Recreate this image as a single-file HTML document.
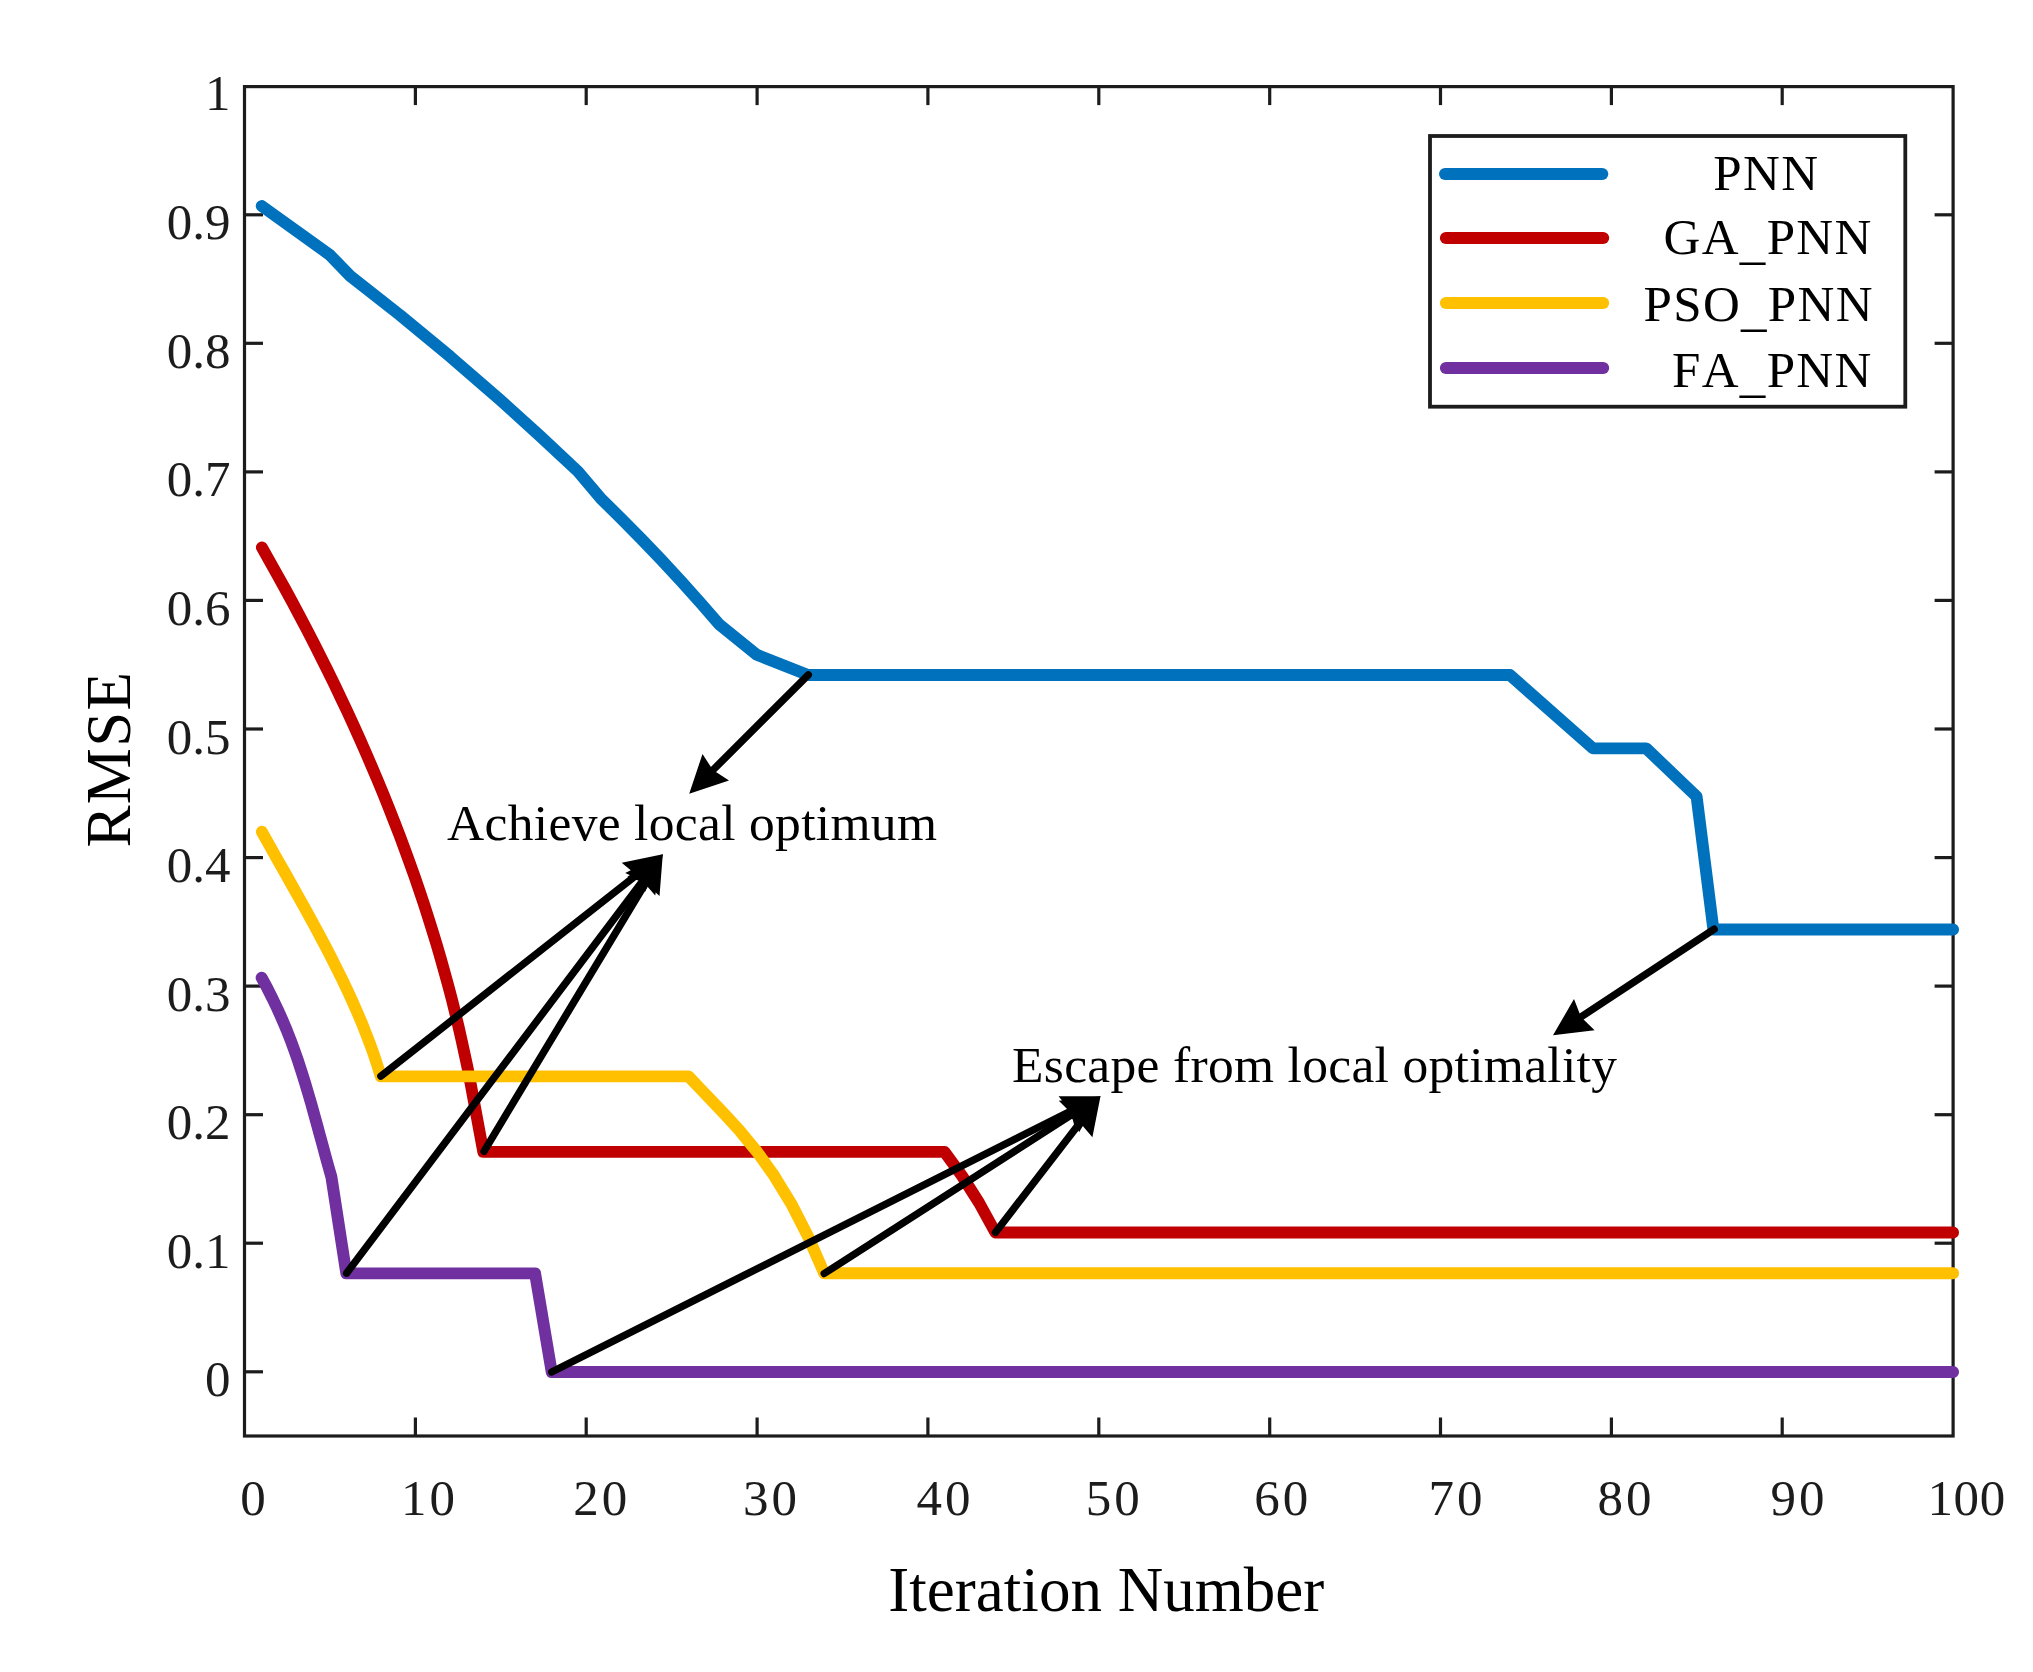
<!DOCTYPE html>
<html><head><meta charset="utf-8"><title>RMSE vs Iteration Number</title>
<style>
html,body{margin:0;padding:0;background:#fff;}
body{width:2033px;height:1672px;overflow:hidden;}
svg{display:block;}
text{font-family:"Liberation Serif",serif;font-kerning:none;}
.tk{font-size:51px;fill:#1c1c1c;letter-spacing:0.6px;}
.lg{font-size:51px;fill:#000;letter-spacing:1.3px;}
.an{font-size:51.5px;fill:#000;}
</style></head><body>
<svg width="2033" height="1672" viewBox="0 0 2033 1672">
<rect width="2033" height="1672" fill="#fff"/>
<g stroke="#1c1c1c" stroke-width="3.2" fill="none" stroke-linecap="butt">
<rect x="244.5" y="86.6" width="1708.6" height="1349.4"/>
<line x1="415.4" y1="1436.0" x2="415.4" y2="1417.5"/>
<line x1="415.4" y1="86.6" x2="415.4" y2="105.1"/>
<line x1="586.2" y1="1436.0" x2="586.2" y2="1417.5"/>
<line x1="586.2" y1="86.6" x2="586.2" y2="105.1"/>
<line x1="757.1" y1="1436.0" x2="757.1" y2="1417.5"/>
<line x1="757.1" y1="86.6" x2="757.1" y2="105.1"/>
<line x1="927.9" y1="1436.0" x2="927.9" y2="1417.5"/>
<line x1="927.9" y1="86.6" x2="927.9" y2="105.1"/>
<line x1="1098.8" y1="1436.0" x2="1098.8" y2="1417.5"/>
<line x1="1098.8" y1="86.6" x2="1098.8" y2="105.1"/>
<line x1="1269.7" y1="1436.0" x2="1269.7" y2="1417.5"/>
<line x1="1269.7" y1="86.6" x2="1269.7" y2="105.1"/>
<line x1="1440.5" y1="1436.0" x2="1440.5" y2="1417.5"/>
<line x1="1440.5" y1="86.6" x2="1440.5" y2="105.1"/>
<line x1="1611.4" y1="1436.0" x2="1611.4" y2="1417.5"/>
<line x1="1611.4" y1="86.6" x2="1611.4" y2="105.1"/>
<line x1="1782.2" y1="1436.0" x2="1782.2" y2="1417.5"/>
<line x1="1782.2" y1="86.6" x2="1782.2" y2="105.1"/>
<line x1="244.5" y1="1371.8" x2="263.0" y2="1371.8"/>
<line x1="1953.1" y1="1371.8" x2="1934.6" y2="1371.8"/>
<line x1="244.5" y1="1243.2" x2="263.0" y2="1243.2"/>
<line x1="1953.1" y1="1243.2" x2="1934.6" y2="1243.2"/>
<line x1="244.5" y1="1114.7" x2="263.0" y2="1114.7"/>
<line x1="1953.1" y1="1114.7" x2="1934.6" y2="1114.7"/>
<line x1="244.5" y1="986.1" x2="263.0" y2="986.1"/>
<line x1="1953.1" y1="986.1" x2="1934.6" y2="986.1"/>
<line x1="244.5" y1="857.6" x2="263.0" y2="857.6"/>
<line x1="1953.1" y1="857.6" x2="1934.6" y2="857.6"/>
<line x1="244.5" y1="729.0" x2="263.0" y2="729.0"/>
<line x1="1953.1" y1="729.0" x2="1934.6" y2="729.0"/>
<line x1="244.5" y1="600.4" x2="263.0" y2="600.4"/>
<line x1="1953.1" y1="600.4" x2="1934.6" y2="600.4"/>
<line x1="244.5" y1="471.9" x2="263.0" y2="471.9"/>
<line x1="1953.1" y1="471.9" x2="1934.6" y2="471.9"/>
<line x1="244.5" y1="343.3" x2="263.0" y2="343.3"/>
<line x1="1953.1" y1="343.3" x2="1934.6" y2="343.3"/>
<line x1="244.5" y1="214.8" x2="263.0" y2="214.8"/>
<line x1="1953.1" y1="214.8" x2="1934.6" y2="214.8"/>
</g>
<text class="tk" x="253.2" y="1515" text-anchor="middle" style="letter-spacing:0.6px">0</text>
<text class="tk" x="429.5" y="1515" text-anchor="middle" style="letter-spacing:3px">10</text>
<text class="tk" x="601.7" y="1515" text-anchor="middle" style="letter-spacing:3px">20</text>
<text class="tk" x="771.4" y="1515" text-anchor="middle" style="letter-spacing:3px">30</text>
<text class="tk" x="945.0" y="1515" text-anchor="middle" style="letter-spacing:3px">40</text>
<text class="tk" x="1114.3" y="1515" text-anchor="middle" style="letter-spacing:3px">50</text>
<text class="tk" x="1282.7" y="1515" text-anchor="middle" style="letter-spacing:3px">60</text>
<text class="tk" x="1456.9" y="1515" text-anchor="middle" style="letter-spacing:3px">70</text>
<text class="tk" x="1625.9" y="1515" text-anchor="middle" style="letter-spacing:3px">80</text>
<text class="tk" x="1799.1" y="1515" text-anchor="middle" style="letter-spacing:3px">90</text>
<text class="tk" x="1966.6" y="1515" text-anchor="middle" style="letter-spacing:0.6px">100</text>
<text class="tk" x="230.4" y="1396.3" text-anchor="end" style="letter-spacing:0">0</text>
<text class="tk" x="230.4" y="1267.7" text-anchor="end" style="letter-spacing:0">0.1</text>
<text class="tk" x="230.4" y="1139.2" text-anchor="end" style="letter-spacing:0">0.2</text>
<text class="tk" x="230.4" y="1010.6" text-anchor="end" style="letter-spacing:0">0.3</text>
<text class="tk" x="230.4" y="882.1" text-anchor="end" style="letter-spacing:0">0.4</text>
<text class="tk" x="230.4" y="753.5" text-anchor="end" style="letter-spacing:0">0.5</text>
<text class="tk" x="230.4" y="624.9" text-anchor="end" style="letter-spacing:0">0.6</text>
<text class="tk" x="230.4" y="496.4" text-anchor="end" style="letter-spacing:0">0.7</text>
<text class="tk" x="230.4" y="367.8" text-anchor="end" style="letter-spacing:0">0.8</text>
<text class="tk" x="230.4" y="239.3" text-anchor="end" style="letter-spacing:0">0.9</text>
<text class="tk" x="230.4" y="110.0" text-anchor="end" style="letter-spacing:0">1</text>
<polyline points="261.7,206.0 329.7,254.8 350.2,276.0 400.0,315.1 450.0,356.4 500.0,399.8 540.0,436.0 578.0,471.5 601.6,499.3 621.6,518.9 641.6,539.2 661.6,560.2 681.6,581.8 701.6,604.1 719.2,624.3 756.9,654.8 808.0,675.0 1509.9,675.0 1593.0,748.4 1646.2,748.4 1696.6,796.5 1713.4,929.5 1953.1,929.5" fill="none" stroke="#0072BD" stroke-width="11.9" stroke-linecap="round" stroke-linejoin="round"/>
<polyline points="261.9,547.4 269.6,561.1 277.3,574.8 284.9,588.5 292.3,602.2 299.6,615.9 306.8,629.6 313.9,643.3 320.8,657.0 327.7,670.7 334.4,684.4 340.9,698.1 347.4,711.8 353.7,725.5 359.9,739.2 365.9,752.9 371.8,766.6 377.6,780.3 383.3,794.0 388.8,807.7 394.2,821.5 399.5,835.2 404.6,848.9 409.6,862.6 414.5,876.3 419.2,890.0 423.8,903.7 428.2,917.4 432.5,931.1 436.7,944.8 440.7,958.5 444.5,972.2 448.3,985.9 451.9,999.6 455.3,1013.3 458.6,1027.0 461.7,1040.7 464.7,1054.4 467.6,1068.1 470.3,1081.8 483.3,1151.9 944.6,1151.9 962.1,1176.0 979.2,1203.0 995.4,1232.5 1953.1,1232.5" fill="none" stroke="#C00000" stroke-width="11.9" stroke-linecap="round" stroke-linejoin="round"/>
<polyline points="261.9,831.8 267.8,842.4 273.8,853.1 279.8,863.7 285.8,874.3 291.8,885.0 297.8,895.6 303.7,906.2 309.6,916.9 315.4,927.5 321.1,938.1 326.7,948.8 332.2,959.4 337.5,970.1 342.8,980.7 347.8,991.3 352.7,1002.0 357.4,1012.6 361.9,1023.2 366.1,1033.9 370.2,1044.5 374.0,1055.1 377.5,1065.8 380.7,1076.4 688.5,1076.4 705.8,1094.5 722.9,1112.4 740.0,1131.1 757.1,1151.9 774.2,1175.8 791.3,1203.8 808.3,1237.0 824.2,1273.3 1953.1,1273.3" fill="none" stroke="#FFC000" stroke-width="11.9" stroke-linecap="round" stroke-linejoin="round"/>
<polyline points="261.6,977.7 267.3,988.2 272.6,998.7 277.6,1009.2 282.3,1019.7 286.7,1030.1 290.8,1040.6 294.6,1051.1 298.3,1061.6 301.7,1072.1 305.0,1082.6 308.1,1093.1 311.2,1103.6 314.1,1114.1 317.0,1124.6 319.8,1135.0 322.7,1145.5 325.5,1156.0 328.4,1166.5 331.4,1177.0 346.3,1273.4 535.1,1273.4 551.7,1372.0 1953.1,1372.0" fill="none" stroke="#7030A0" stroke-width="11.9" stroke-linecap="round" stroke-linejoin="round"/>
<line x1="808.3" y1="674.8" x2="711.5" y2="771.5" stroke="#000" stroke-width="7.4" stroke-linecap="round"/><polygon points="689.2,793.8 702.5,754.0 712.9,770.1 729.0,780.6" fill="#000"/>
<line x1="1714.2" y1="929.2" x2="1579.3" y2="1018.0" stroke="#000" stroke-width="7.4" stroke-linecap="round"/><polygon points="1553.0,1035.3 1574.0,999.0 1581.0,1016.9 1594.6,1030.3" fill="#000"/>
<line x1="380.9" y1="1076.2" x2="638.0" y2="873.8" stroke="#000" stroke-width="7.4" stroke-linecap="round"/><polygon points="662.8,854.3 644.9,892.2 636.5,875.0 621.7,862.8" fill="#000"/>
<line x1="484.0" y1="1151.3" x2="646.6" y2="881.3" stroke="#000" stroke-width="7.4" stroke-linecap="round"/><polygon points="662.8,854.3 659.5,896.1 645.5,883.0 627.4,876.8" fill="#000"/>
<line x1="346.6" y1="1273.2" x2="643.8" y2="879.4" stroke="#000" stroke-width="7.4" stroke-linecap="round"/><polygon points="662.8,854.3 655.2,895.5 642.6,881.0 625.2,872.9" fill="#000"/>
<line x1="551.7" y1="1372.0" x2="1072.4" y2="1110.3" stroke="#000" stroke-width="7.4" stroke-linecap="round"/><polygon points="1100.5,1096.2 1075.4,1129.8 1070.6,1111.2 1058.6,1096.3" fill="#000"/>
<line x1="824.2" y1="1273.5" x2="1074.0" y2="1113.2" stroke="#000" stroke-width="7.4" stroke-linecap="round"/><polygon points="1100.5,1096.2 1079.1,1132.2 1072.3,1114.3 1058.8,1100.7" fill="#000"/>
<line x1="995.4" y1="1232.4" x2="1081.3" y2="1121.1" stroke="#000" stroke-width="7.4" stroke-linecap="round"/><polygon points="1100.5,1096.2 1092.4,1137.3 1080.0,1122.7 1062.7,1114.4" fill="#000"/>
<text class="an" x="447" y="840" textLength="490" lengthAdjust="spacing">Achieve local optimum</text>
<text class="an" x="1012" y="1082" textLength="605" lengthAdjust="spacing">Escape from local optimality</text>
<text x="888.3" y="1611" style="font-size:63px;fill:#000" textLength="436" lengthAdjust="spacing">Iteration Number</text>
<text transform="translate(130.3,847.5) rotate(-90)" style="font-size:63px;fill:#000;letter-spacing:1.3px">RMSE</text>
<rect x="1430" y="136" width="475.3" height="270.7" fill="#fff" stroke="#1c1c1c" stroke-width="3.8"/>
<line x1="1445" y1="174" x2="1602.3" y2="174" stroke="#0072BD" stroke-width="12" stroke-linecap="round"/>
<text class="lg" x="1819.3" y="190" text-anchor="end">PNN</text>
<line x1="1445.9" y1="238" x2="1603.2" y2="238" stroke="#C00000" stroke-width="12" stroke-linecap="round"/>
<text class="lg" x="1872.6" y="254" text-anchor="end">GA<tspan dy="4">_</tspan><tspan dy="-4">PNN</tspan></text>
<line x1="1445.9" y1="303" x2="1603.2" y2="303" stroke="#FFC000" stroke-width="12" stroke-linecap="round"/>
<text class="lg" x="1873.8" y="321" text-anchor="end">PSO<tspan dy="4">_</tspan><tspan dy="-4">PNN</tspan></text>
<line x1="1445.9" y1="368" x2="1603.2" y2="368" stroke="#7030A0" stroke-width="12" stroke-linecap="round"/>
<text class="lg" x="1872.6" y="387" text-anchor="end">FA<tspan dy="4">_</tspan><tspan dy="-4">PNN</tspan></text>
</svg></body></html>
